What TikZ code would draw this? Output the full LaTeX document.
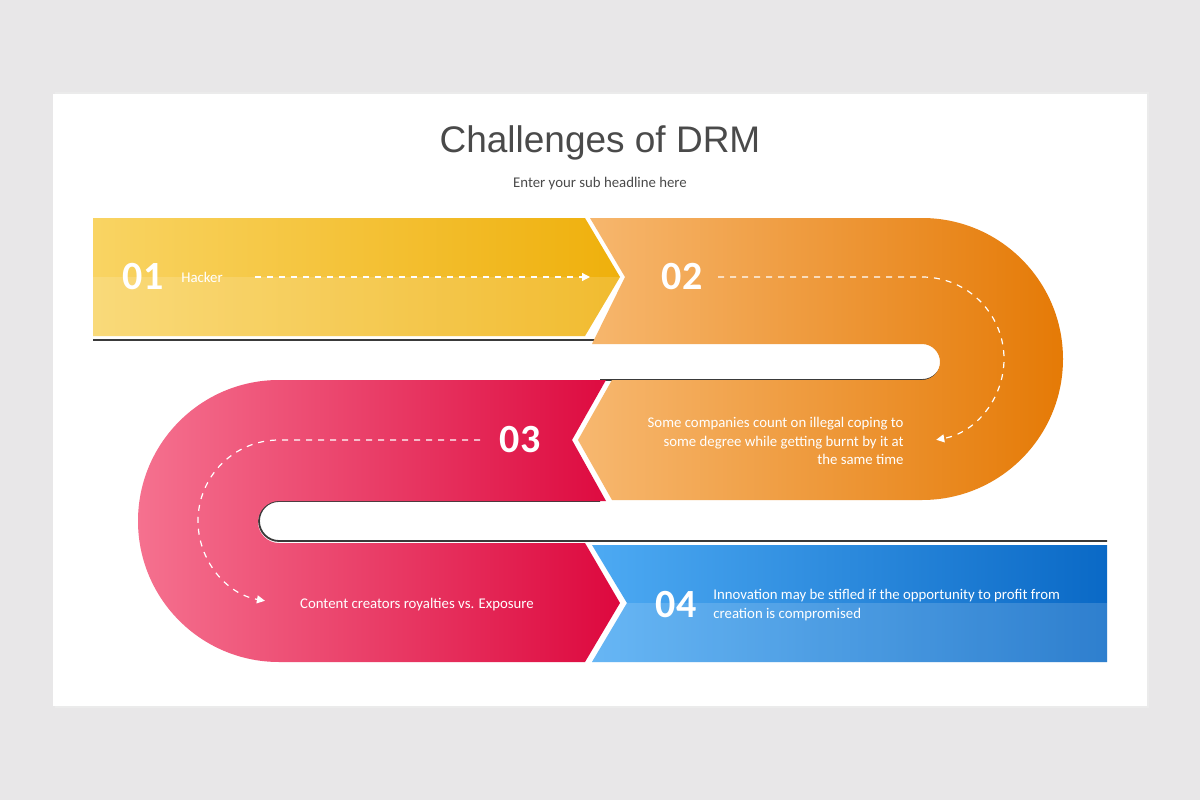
\documentclass[tikz,border=0pt]{standalone}
\usepackage{fontspec}
\setmainfont{Carlito}
\newfontfamily\titlefont{Liberation Sans}
\usetikzlibrary{arrows.meta}
\definecolor{pageGray}{HTML}{E8E7E8}
\definecolor{titleGray}{HTML}{4A4A4A}
\definecolor{slotGray}{HTML}{3A3A3A}
\definecolor{yelA}{HTML}{F9D463}
\definecolor{yelB}{HTML}{EFB00C}
\definecolor{oraA}{HTML}{F7B870}
\definecolor{oraB}{HTML}{E57A06}
\definecolor{pinA}{HTML}{F5718F}
\definecolor{pinB}{HTML}{DD083E}
\definecolor{bluA}{HTML}{4DAAF3}
\definecolor{bluB}{HTML}{0A69C6}
\begin{document}
\begin{tikzpicture}[x=0.5pt, y=0.5pt,
    numStyle/.style={text=white, font=\bfseries\fontsize{20}{22}\selectfont, inner sep=0pt},
    txtStyle/.style={text=white, font=\fontsize{7.4}{9.2}\selectfont, inner sep=0pt},
    flowStyle/.style={white, dashed, line width=0.6pt, -{Triangle[length=4pt,width=4pt]}},
    slotStyle/.style={slotGray, line width=0.9pt}]
    \useasboundingbox (0,0) rectangle (1200,800);
    \fill[pageGray] (0,0) rectangle (1200,800);
    \fill[black!8] (55,92) rectangle (1149,708);
    \fill[white] (53,94) rectangle (1147,706);

    \node[text=titleGray, font=\titlefont\fontsize{18.5}{20}\selectfont] (title) at (600,657) {Challenges of DRM};
    \node[text=titleGray, font=\fontsize{7.4}{9}\selectfont] (subtitle) at (600,616) {Enter your sub headline here};

    % slot outlines
    \draw[slotStyle] (93,460) -- (922,460) arc[start angle=90, end angle=-90, radius=20] -- (600,420);
    \draw[slotStyle] (1107,259) -- (279,259) arc[start angle=270, end angle=90, radius=20] -- (600,299);

    % bands
    \shade[left color=yelA, right color=yelB] (93,582) -- (585,582) -- (620,523) -- (585,464) -- (93,464) -- cycle;
    \fill[white, opacity=0.15] (93,523) -- (620,523) -- (585,464) -- (93,464) -- cycle;
    \shade[shading angle=120, left color=oraA, right color=oraB]
        (590,582) -- (922,582) arc[start angle=90, end angle=-90, radius=141]
        -- (612,300) -- (578,360) -- (612,420) -- (922,420)
        arc[start angle=-90, end angle=90, radius=18] -- (592,456) -- (625,523) -- cycle;
    \shade[shading angle=60, left color=pinA, right color=pinB]
        (606,420) -- (279,420) arc[start angle=90, end angle=270, radius=141]
        -- (585,138) -- (620,197) -- (585,257) -- (279,257)
        arc[start angle=270, end angle=90, radius=21] -- (606,299) -- (572,360) -- cycle;
    \shade[left color=bluA, right color=bluB] (592,255) -- (1107,255) -- (1107,138) -- (592,138) -- (627,197) -- cycle;
    \fill[white, opacity=0.15] (627,197) -- (1107,197) -- (1107,138) -- (592,138) -- cycle;

    % labels
    \node[numStyle] (n01) at (143,523) {01};
    \node[txtStyle, anchor=west] (t01) at (181,523) {Hacker};
    \node[numStyle] (n02) at (682,523) {02};
    \node[txtStyle, anchor=east, align=right] (t02) at (904,359) {Some companies count on illegal coping to\\some degree while getting burnt by it at\\the same time};
    \node[numStyle] (n03) at (520,360) {03};
    \node[txtStyle] (t03) at (417,195) {Content creators royalties vs. Exposure};
    \node[numStyle] (n04) at (676,195) {04};
    \node[txtStyle, anchor=west, align=left] (t04) at (713,195) {Innovation may be stifled if the opportunity to profit from\\creation is compromised};

    % flow arrows
    \coordinate (a1s) at (255,523);
    \coordinate (a1e) at (590,523);
    \coordinate (a2s) at (718,523);
    \coordinate (a3s) at (480,360);
    \draw[flowStyle] (a1s) -- (a1e);
    \draw[flowStyle] (a2s) -- (922,523) arc[start angle=90, end angle=-80, radius=82];
    \draw[flowStyle] (a3s) -- (279,360) arc[start angle=90, end angle=260, radius=81];
\end{tikzpicture}
\end{document}
